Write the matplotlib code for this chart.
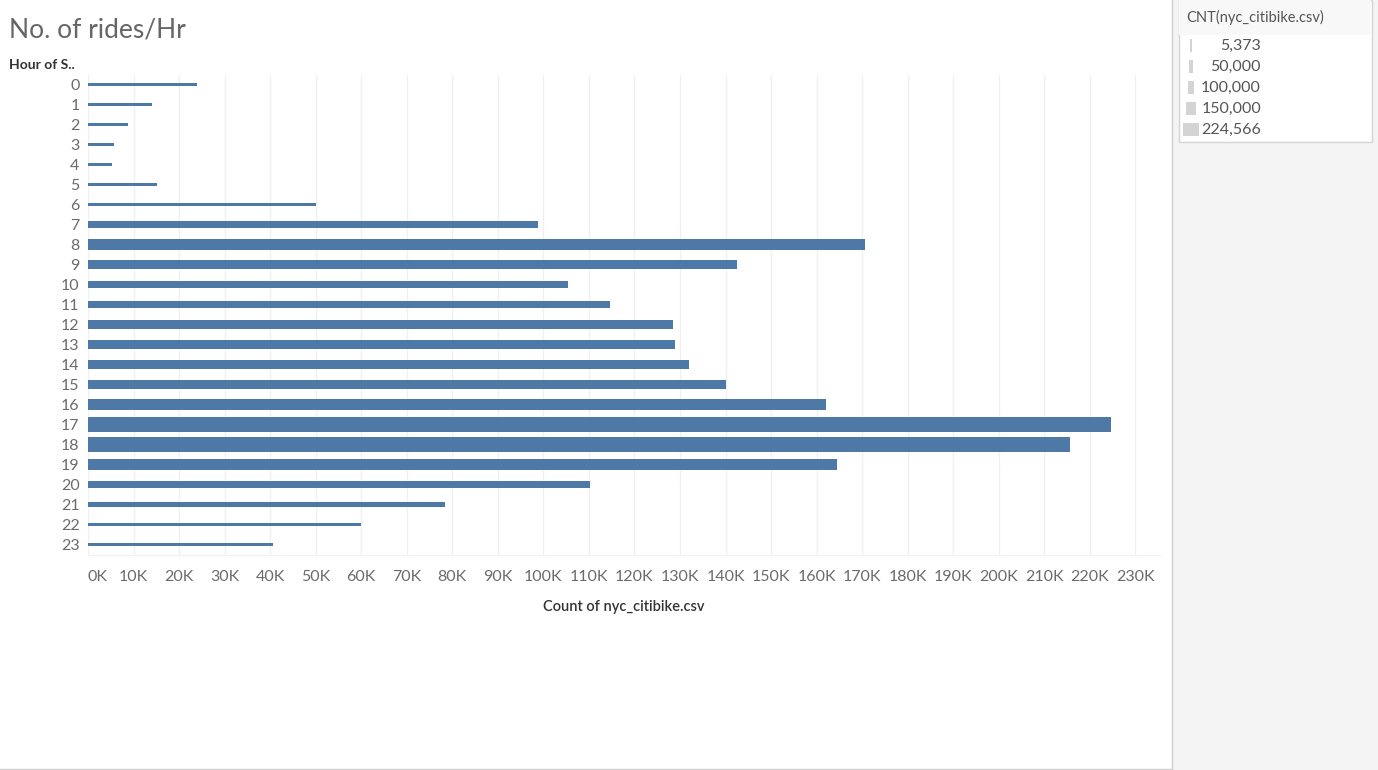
import numpy as np
import matplotlib
matplotlib.use("Agg")
import matplotlib.pyplot as plt
from matplotlib.patches import Rectangle
import matplotlib.transforms as mtransforms

# rides per start hour
hours = list(range(24))
counts = np.array([
    23900, 14100, 8800, 5800, 5373, 15200, 50000, 98800, 170600, 142500,
    105400, 114600, 128500, 128900, 132000, 140100, 162100, 224566, 215600, 164500,
    110200, 78400, 60000, 40600,
])
x_ticks = list(range(0, 230001, 10000))
x_labels = [f"{t // 1000}K" for t in x_ticks]
legend_values = [5373, 50000, 100000, 150000, 224566]

BAR = "#4e79a7"
GRID = "#f0f0f0"
TICK = "#6b6b6b"
DARK = "#333333"
FONT = ["Lato", "DejaVu Sans"]
plt.rcParams["font.family"] = FONT

W, H = 1378, 770
fig = plt.figure(figsize=(W / 100, H / 100), dpi=100)
fig.patch.set_facecolor("white")

# right side panel + borders
fig.patches.append(Rectangle((1172 / W, 0), 1 - 1172 / W, 1, transform=fig.transFigure,
                             facecolor="#f4f4f4", edgecolor="none", zorder=0))
fig.add_artist(plt.Line2D([1171.5 / W, 1171.5 / W], [0, 1], color="#d0d0d0", lw=1))
fig.add_artist(plt.Line2D([0, 1171.5 / W], [1.5 / H, 1.5 / H], color="#d0d0d0", lw=1))

ax = fig.add_axes([88 / W, 1 - 554.5 / H, (1160 - 88) / W, 480 / H])

# bar thickness follows the count (size encoding)
heights = np.maximum(counts / counts.max() * 0.73, 0.115)
ax.barh(hours, counts, height=heights, color=BAR, zorder=3)

ax.set_xlim(0, 235400)
ax.set_ylim(23.5, -0.5)
ax.set_xticks(x_ticks, x_labels)
ax.set_yticks(hours, [str(h) for h in hours])
ax.tick_params(axis="both", length=0, labelsize=11.5, labelcolor=TICK)
ax.tick_params(axis="x", pad=11)
ax.tick_params(axis="y", pad=6)
ax.grid(axis="x", color=GRID, lw=1, zorder=0)
for s in ["top", "right"]:
    ax.spines[s].set_visible(False)
ax.spines["left"].set_color(GRID)
ax.spines["bottom"].set_color(GRID)

# first label is nudged right like the original
first = ax.xaxis.get_major_ticks()[0].label1
first.set_transform(first.get_transform() + mtransforms.ScaledTranslation(10 / 100, 0, fig.dpi_scale_trans))

ax.set_xlabel("Count of nyc_citibike.csv", fontsize=10.5, color=DARK,
              fontweight="semibold", labelpad=12)

fig.text(9 / W, 1 - 30 / H, "No. of rides/Hr", fontsize=19, color="#666666",
         va="center", ha="left")
fig.text(9 / W, 1 - 65 / H, "Hour of S..", fontsize=10, color=DARK,
         fontweight="bold", va="center", ha="left")

# size legend box
lx0, lx1, ly1 = 1178.5, 1371.5, 141.5
fig.patches.append(Rectangle((lx0 / W, 1 - ly1 / H), (lx1 - lx0) / W, ly1 / H,
                             transform=fig.transFigure, facecolor="white",
                             edgecolor="#d4d4d4", lw=1, zorder=1))
fig.patches.append(Rectangle((lx0 / W + 0.5 / W, 1 - 35 / H), (lx1 - lx0 - 1) / W, 34.5 / H,
                             transform=fig.transFigure, facecolor="#f8f8f8",
                             edgecolor="none", zorder=2))
fig.text(1186 / W, 1 - 17.5 / H, "CNT(nyc_citibike.csv)", fontsize=10.5, color="#555555",
         va="center", ha="left", zorder=3)
for i, v in enumerate(legend_values):
    yc = 45.5 + 21 * i
    w = max(1.4, v / max(legend_values) * 15.3)
    fig.patches.append(Rectangle(((1191 - w / 2) / W, 1 - (yc + 6.5) / H), w / W, 13 / H,
                                 transform=fig.transFigure, facecolor="#d4d4d4",
                                 edgecolor="none", zorder=3))
    fig.text(1261 / W, 1 - yc / H, f"{v:,}", fontsize=11.5, color="#555555",
             va="center", ha="right", zorder=3)

fig.savefig("out.png", dpi=100)
